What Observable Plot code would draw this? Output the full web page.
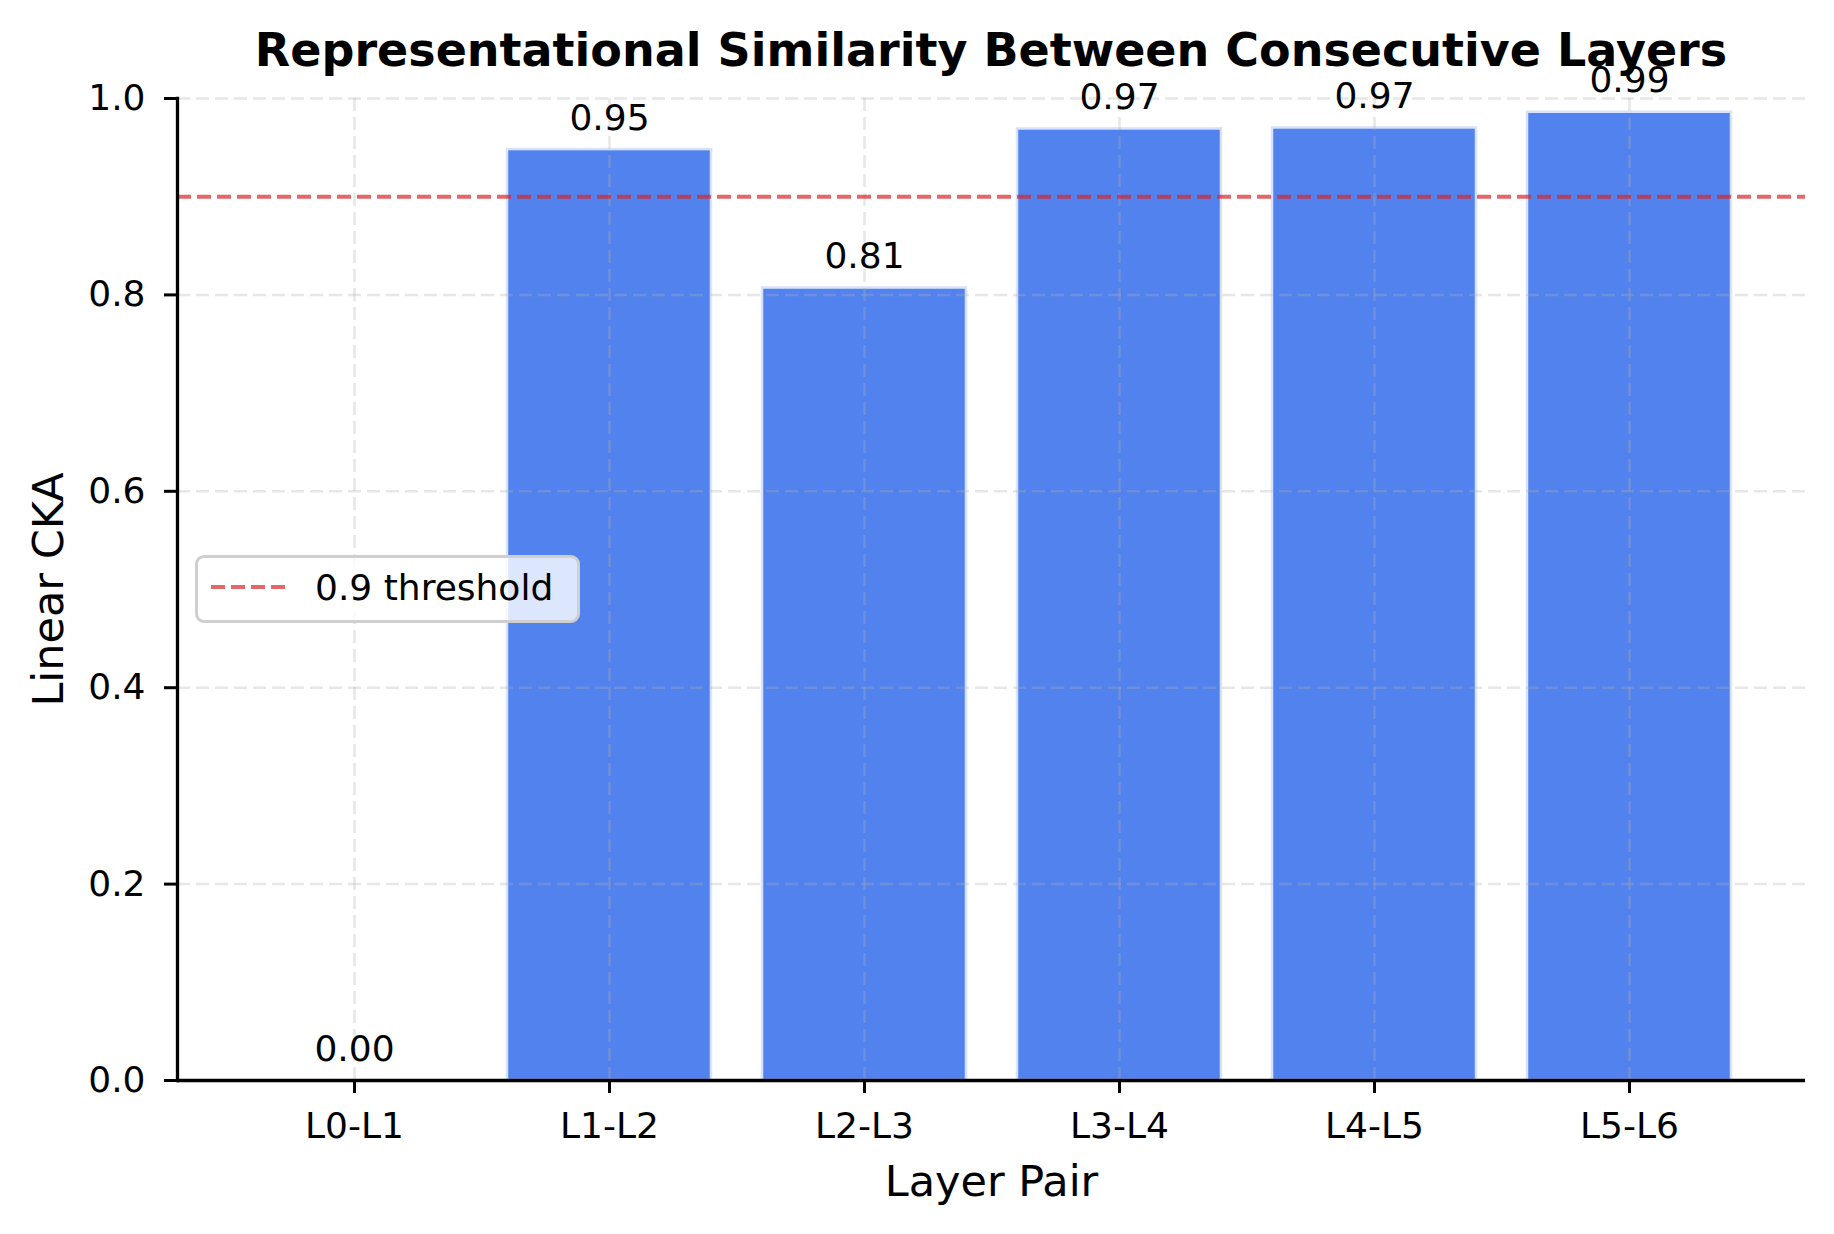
<!DOCTYPE html>
<html>
<head>
<meta charset="utf-8">
<script src="https://cdn.jsdelivr.net/npm/d3@7"></script>
<script src="https://cdn.jsdelivr.net/npm/@observablehq/plot@0.6"></script>
<style>
  html, body { margin: 0; padding: 0; background: #fff; }
  #wrap { position: relative; width: 1834px; height: 1234px; font-family: "DejaVu Sans", sans-serif; color: #000; }
  #chart svg { display: block; }
  #title { position: absolute; left: 177px; width: 1628px; top: 26.5px; text-align: center; font-weight: bold; font-size: 46px; line-height: 1; white-space: nowrap; }
  #legend { position: absolute; left: 195px; top: 555px; width: 385px; height: 68px; box-sizing: border-box;
            border: 3px solid #cfcfcf; border-radius: 9px; background: rgba(255,255,255,0.8); }
  #legend svg { position: absolute; left: 13px; top: 25px; }
  #legend span { position: absolute; left: 117px; top: 11.5px; font-size: 36px; line-height: 1; white-space: nowrap; }
</style>
</head>
<body>
<div id="wrap">
  <div id="chart"></div>
  <div id="title"></div>
  <div id="legend"></div>
</div>
<script>
// ---- data ----
const pairs = ["L0-L1", "L1-L2", "L2-L3", "L3-L4", "L4-L5", "L5-L6"];
const ckaValues = [0.0, 0.948, 0.807, 0.969, 0.970, 0.986];
const yTicks = [0.0, 0.2, 0.4, 0.6, 0.8, 1.0];
const threshold = [0.9];
const titleText = "Representational Similarity Between Consecutive Layers";
const xLabel = "Layer Pair";
const yLabel = "Linear CKA";
const legendLabel = "0.9 threshold";

const data = pairs.map((p, i) => ({pair: p, cka: ckaValues[i]}));

const barFill = "#5282ee";
const barEdge = "#d8e2fa";
const threshColor = "#d62728";
const gridColor = "#b0b0b0";

const chart = Plot.plot({
  width: 1834,
  height: 1234,
  marginLeft: 177,
  marginRight: 29,
  marginTop: 98,
  marginBottom: 154,
  style: {fontFamily: "DejaVu Sans, sans-serif", fontSize: "36px", color: "#000", background: "#fff", overflow: "visible"},
  x: {domain: pairs, paddingInner: 0.2, paddingOuter: 0.29, label: null},
  y: {domain: [0, 1], label: null},
  marks: [
    Plot.barY(data, {x: "pair", y: "cka", fill: barFill, stroke: barEdge, strokeWidth: 2.5}),
    Plot.gridY(yTicks, {stroke: gridColor, strokeOpacity: 0.3, strokeWidth: 2.5, strokeDasharray: "13,6"}),
    Plot.gridX(pairs, {stroke: gridColor, strokeOpacity: 0.3, strokeWidth: 2.5, strokeDasharray: "13,6"}),
    Plot.ruleY(threshold, {stroke: threshColor, strokeOpacity: 0.7, strokeWidth: 4, strokeDasharray: "14,6"}),
    Plot.text(data, {x: "pair", y: "cka", text: d => d3.format(".2f")(d.cka), dy: -31.5, fontSize: 36, fill: "#000"}),
    Plot.axisY({ticks: yTicks, tickFormat: d3.format(".1f"), tickSize: 13, tickPadding: 19, strokeWidth: 3, fontSize: 36, label: null}),
    Plot.axisX({tickSize: 13, tickPadding: 19, strokeWidth: 3, fontSize: 36, label: null}),
    Plot.ruleY([0], {stroke: "#000", strokeWidth: 3.3}),
    Plot.frame({anchor: "left", stroke: "#000", strokeWidth: 3.3}),
    Plot.text([xLabel], {frameAnchor: "bottom", text: d => d, textAnchor: "middle", lineAnchor: "middle", dy: 102, fontSize: 43, fill: "#000"}),
    Plot.text([yLabel], {frameAnchor: "left", text: d => d, rotate: -90, textAnchor: "middle", lineAnchor: "middle", dx: -128, fontSize: 43, fill: "#000"})
  ]
});
document.getElementById("chart").appendChild(chart);
document.getElementById("title").textContent = titleText;

const leg = document.getElementById("legend");
leg.innerHTML = `<svg width="80" height="8"><line x1="0" x2="75" y1="4" y2="4" stroke="${threshColor}" stroke-opacity="0.7" stroke-width="4" stroke-dasharray="14,6"></line></svg><span></span>`;
leg.querySelector("span").textContent = legendLabel;
</script>
</body>
</html>
